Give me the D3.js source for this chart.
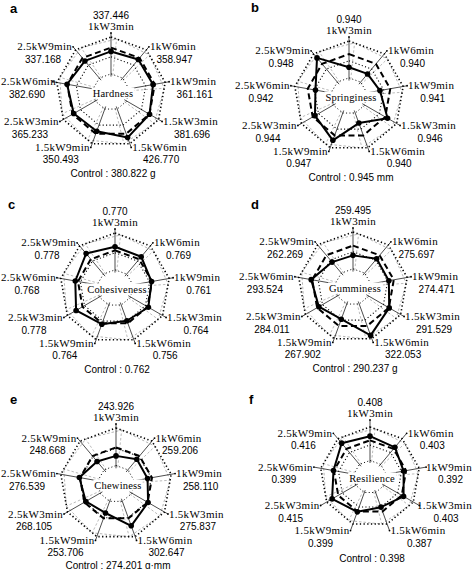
<!DOCTYPE html>
<html><head><meta charset="utf-8">
<script src="https://cdn.jsdelivr.net/npm/d3@7"></script>
<style>body{margin:0;background:#fff}svg{display:block}</style>
</head><body><svg id="c" width="474" height="569"></svg>
<script>
// ---- data ----
const axes = ["1kW3min","1kW6min","1kW9min","1.5kW3min","1.5kW6min","1.5kW9min","2.5kW3min","2.5kW6min","2.5kW9min"];
const panelLetters = ["a","b","c","d","e","f"];
const attributes = ["Hardness","Springiness","Cohesiveness","Gumminess","Chewiness","Resilience"];
const hardness     = [337.446, 358.947, 361.161, 381.696, 426.770, 350.493, 365.233, 382.690, 337.168];
const springiness  = [0.940, 0.940, 0.941, 0.946, 0.940, 0.947, 0.944, 0.942, 0.948];
const cohesiveness = [0.770, 0.769, 0.761, 0.764, 0.756, 0.764, 0.778, 0.768, 0.778];
const gumminess    = [259.495, 275.697, 274.471, 291.529, 322.053, 267.902, 284.011, 293.524, 262.269];
const chewiness    = [243.926, 259.206, 258.110, 275.837, 302.647, 253.706, 268.105, 276.539, 248.668];
const resilience   = [0.408, 0.403, 0.392, 0.403, 0.387, 0.399, 0.415, 0.399, 0.416];
const controlValues = [380.822, 0.945, 0.762, 290.237, 274.201, 0.398];
const controlUnits  = [" g", " mm", "", " g", " g·mm", ""];
const series = [hardness, springiness, cohesiveness, gumminess, chewiness, resilience];

// ---- layout / scales ----
const layout = [
  {cx:111, cy:92,  R:55, ext:4, lx:10,  ly:12.5},
  {cx:349, cy:96,  R:55, ext:4, lx:251, ly:12},
  {cx:115, cy:288, R:55, ext:4, lx:8,   ly:209},
  {cx:353, cy:287, R:55, ext:4, lx:251, ly:209},
  {cx:116, cy:484, R:56, ext:4, lx:10,  ly:403.5},
  {cx:370, cy:477, R:50, ext:7, lx:249, ly:403.5}
];
const domains = [[-120,500],[0.929,0.950],[0.68,0.80],[160,333],[143,344],[0.31,0.43]];
const fmt = d3.format(".3f");
const SERIF = "'Liberation Serif','Times New Roman',serif";
const SANS = "'Liberation Sans',Arial,sans-serif";
const n = axes.length;
const step = 2*Math.PI/n;
const W = 474;
const svg = d3.select("#c");

series.forEach((vals, p) => {
  const L = layout[p];
  const r = d3.scaleLinear().domain(domains[p]).range([0, L.R]);
  const frac = d3.scaleLinear().domain([0,1]).range([0, L.R]);
  const g = svg.append("g").attr("transform", `translate(${L.cx},${L.cy})`);
  const ringLine = (rad, rot) => d3.lineRadial()
      .angle((d,i)=> i*step + rot).radius(rad).curve(d3.curveLinearClosed)(axes);

  // grey offset grid (overlay look)
  const rot = 6*Math.PI/180;
  g.append("path").attr("d", ringLine(frac(0.97), rot))
    .attr("fill","none").attr("stroke","#777").attr("stroke-width",0.55).attr("stroke-dasharray","2.5,2");
  axes.forEach((a,i) => {
    const p0 = d3.pointRadial(i*step+rot, frac(0.3)), p1 = d3.pointRadial(i*step+rot, frac(0.97));
    g.append("line").attr("x1",p0[0]).attr("y1",p0[1]).attr("x2",p1[0]).attr("y2",p1[1])
      .attr("stroke","#777").attr("stroke-width",0.5).attr("stroke-dasharray","2.5,2");
  });

  // dotted rings
  [[0.33,0.9],[0.64,1.1],[1,1.6]].forEach(([f,w]) => {
    g.append("path").attr("d", ringLine(frac(f), 0))
      .attr("fill","none").attr("stroke","#000").attr("stroke-width",w)
      .attr("stroke-dasharray", f===1 ? "1.3,2.4" : "1.1,2.3");
  });

  // spokes
  axes.forEach((a,i) => {
    const p0 = d3.pointRadial(i*step, frac(0.28)), p1 = d3.pointRadial(i*step, L.R + L.ext);
    g.append("line").attr("x1",p0[0]).attr("y1",p0[1]).attr("x2",p1[0]).attr("y2",p1[1])
      .attr("stroke","#000").attr("stroke-width",0.7);
  });

  // centre label
  const ct = g.append("text").attr("x",2).attr("y",4.5).attr("text-anchor","middle")
    .attr("font-family",SERIF).attr("font-size",10.5).attr("letter-spacing",0.2).text(attributes[p]);
  const bb = ct.node().getBBox();
  g.insert("rect", "text").attr("x",bb.x-1).attr("y",bb.y).attr("width",bb.width+2).attr("height",bb.height)
    .attr("fill","#fff");

  // control polygon (dashed)
  const radial = d3.lineRadial().angle((d,i)=> i*step).radius(d=>r(d)).curve(d3.curveLinearClosed);
  g.append("path").attr("d", radial(axes.map(()=>controlValues[p])))
    .attr("fill","none").attr("stroke","#000").attr("stroke-width",2).attr("stroke-dasharray","6,3.5");

  // sample polygon
  g.append("path").attr("d", radial(vals))
    .attr("fill","none").attr("stroke","#000").attr("stroke-width",2).attr("stroke-linejoin","round");
  g.selectAll("circle.pt").data(vals).join("circle").attr("class","pt")
    .attr("cx",(d,i)=>d3.pointRadial(i*step, r(d))[0])
    .attr("cy",(d,i)=>d3.pointRadial(i*step, r(d))[1])
    .attr("r",2.8).attr("fill","#000");

  // axis labels
  axes.forEach((a,i) => {
    const e = d3.pointRadial(i*step, L.R + L.ext);
    g.append("circle").attr("cx",e[0]).attr("cy",e[1]).attr("r",0.9).attr("fill","#000");
    if (i === 0) {
      g.append("text").attr("x",e[0]).attr("y",e[1]-3.5).attr("text-anchor","middle")
        .attr("font-family",SERIF).attr("font-size",11).attr("letter-spacing",0.3).text(a);
      g.append("text").attr("x",e[0]).attr("y",e[1]-14).attr("text-anchor","middle")
        .attr("font-family",SANS).attr("font-size",10).text(fmt(vals[i]));
      return;
    }
    const right = Math.sin(i*step) > 0;
    const nm = g.append("text").attr("y",e[1]+3.6)
      .attr("font-family",SERIF).attr("font-size",11).attr("letter-spacing",0.3).text(a);
    const w = nm.node().getComputedTextLength();
    let x0 = right ? e[0]+1 : e[0]-1-w;
    // keep inside the page
    x0 = Math.max(x0, 1 - L.cx);
    x0 = Math.min(x0, W - 2 - L.cx - w);
    nm.attr("x", x0);
    g.append("text").attr("x", x0 + w/2 + (right?1.5:-1.5)).attr("y", e[1]+16)
      .attr("text-anchor","middle").attr("font-family",SANS).attr("font-size",10).text(fmt(vals[i]));
  });

  // control caption
  g.append("text").attr("x",2).attr("y",84.5).attr("text-anchor","middle")
    .attr("font-family",SANS).attr("font-size",10)
    .text("Control : " + fmt(controlValues[p]) + controlUnits[p]);

  // panel letter
  svg.append("text").attr("x",L.lx).attr("y",L.ly).attr("font-family",SANS)
    .attr("font-weight","bold").attr("font-size",13).text(panelLetters[p]);
});
</script>
</body></html>
